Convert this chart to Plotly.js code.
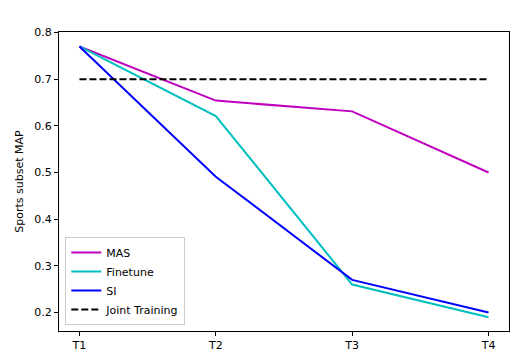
<!DOCTYPE html>
<html>
<head>
<script src="https://cdn.plot.ly/plotly-3.0.1.min.js"></script>
<style>html,body{margin:0;padding:0;background:#fff;}#chart{width:521px;height:363px;}</style>
</head>
<body>
<div id="chart"></div>
<script>
const tasks = ["T1", "T2", "T3", "T4"];
const masValues = [0.77, 0.654, 0.631, 0.50];
const finetuneValues = [0.77, 0.621, 0.26, 0.19];
const siValues = [0.77, 0.491, 0.27, 0.20];
const jointValues = [0.70, 0.70, 0.70, 0.70];
const yTicks = [0.2, 0.3, 0.4, 0.5, 0.6, 0.7, 0.8];

const xIdx = tasks.map((_, i) => i);
const font = {family: "DejaVu Sans, sans-serif", size: 11, color: "#000"};

const traces = [
  {x: xIdx, y: masValues, name: "MAS", mode: "lines", line: {color: "#bf00bf", width: 2}},
  {x: xIdx, y: finetuneValues, name: "Finetune", mode: "lines", line: {color: "#00bfbf", width: 2}},
  {x: xIdx, y: siValues, name: "SI", mode: "lines", line: {color: "#0000ff", width: 2}},
  {x: xIdx, y: jointValues, name: "Joint Training", mode: "lines", line: {color: "#000000", width: 2, dash: "7px,3px"}}
];

const layout = {
  width: 521, height: 363,
  margin: {l: 59, r: 12, t: 32, b: 32, pad: 0},
  paper_bgcolor: "#fff", plot_bgcolor: "#fff",
  font: font,
  showlegend: true,
  legend: {
    x: 0.014, y: 0.02, xanchor: "left", yanchor: "bottom",
    bgcolor: "rgba(255,255,255,0.8)", bordercolor: "#cccccc", borderwidth: 1,
    font: {family: "DejaVu Sans, sans-serif", size: 11, color: "#000"},
    itemwidth: 30, tracegroupgap: 0
  },
  xaxis: {
    range: [-0.15, 3.15], tickvals: xIdx, ticktext: tasks,
    showgrid: false, zeroline: false, showline: true, linecolor: "#000", linewidth: 1, mirror: true,
    ticks: "outside", ticklen: 4, tickcolor: "#000", tickwidth: 1, tickfont: font
  },
  yaxis: {
    range: [0.1605, 0.801], tickvals: yTicks, ticktext: yTicks.map(v => v.toFixed(1)),
    showgrid: false, zeroline: false, showline: true, linecolor: "#000", linewidth: 1, mirror: true,
    ticks: "outside", ticklen: 4, tickcolor: "#000", tickwidth: 1, tickfont: font,
    title: {text: "Sports subset MAP", font: {family: "DejaVu Sans, sans-serif", size: 11, color: "#000"}, standoff: 8}
  }
};

Plotly.newPlot("chart", traces, layout, {displayModeBar: false, staticPlot: true});
</script>
</body>
</html>
